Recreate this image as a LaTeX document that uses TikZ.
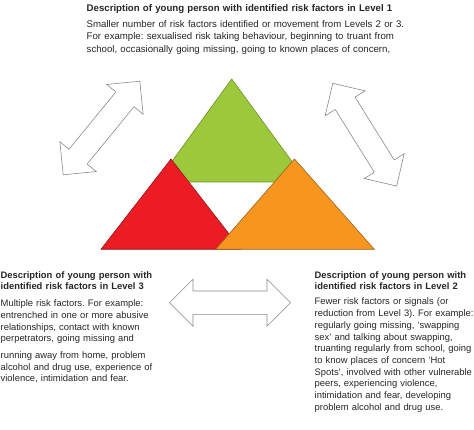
\documentclass[tikz,border=0pt]{standalone}
\usepackage{fontspec}
\setmainfont{Liberation Sans}
\frenchspacing
\definecolor{lvgreen}{HTML}{9BC93B}
\definecolor{lvgreenE}{HTML}{6F8F2C}
\definecolor{lvred}{HTML}{EC1C24}
\definecolor{lvredE}{HTML}{8E1A1C}
\definecolor{lvorange}{HTML}{F7961E}
\definecolor{lvorangeE}{HTML}{9A6220}
\definecolor{arrowgray}{HTML}{8A8A8A}
\tikzset{
  tri/.style={line width=0.6pt, line join=miter},
  arrowshape/.style={draw=arrowgray, fill=white, line width=0.6pt},
  dblarrow/.pic={\draw[arrowshape] (-60.5,0) -- (-37,-23.5) -- (-37,-11.7) -- (37,-11.7) -- (37,-23.5) -- (60.5,0) -- (37,23.5) -- (37,11.7) -- (-37,11.7) -- (-37,23.5) -- cycle;},
  desc/.style={inner sep=0pt, anchor=base west, align=left, text width=#1,
    font=\fontsize{9.4}{11.7}\selectfont\frenchspacing, text=black!85},
}
\begin{document}
\begin{tikzpicture}[x=1pt,y=-1pt]
\useasboundingbox (0,0) rectangle (474,430);
% triangles
\draw[tri, fill=lvgreen, draw=lvgreenE] (231.7,79) -- (157,182) -- (307,182) -- cycle;
\draw[tri, fill=lvred, draw=lvredE] (171,159) -- (101,249.3) -- (241,249.3) -- cycle;
\draw[tri, fill=lvorange, draw=lvorangeE] (294.5,159) -- (215.7,249.3) -- (374.3,249.3) -- cycle;
% arrows
\pic (arrL) [rotate=50.7] at (101.5,128) {dblarrow};
\pic (arrR) [rotate=-58.1] at (364.7,134.7) {dblarrow};
\pic (arrB) at (230,302.7) {dblarrow};
% texts
\node[desc=420pt, font=\fontsize{9.65}{12.5}\selectfont\frenchspacing] (lv1) at (86.5,11.7)
 {\textbf{Description of young person with identified risk factors in Level 1}\\[3.1pt]
  Smaller number of risk factors identified or movement from Levels 2 or 3.\\
  For example: sexualised risk taking behaviour, beginning to truant from\\
  school, occasionally going missing, going to known places of concern,};
\node[desc=200pt] (lv3) at (0.5,278.3)
 {\textbf{Description of young person with}\\
  \textbf{identified risk factors in Level 3}\\[5pt]
  Multiple risk factors. For example:\\
  entrenched in one or more abusive\\
  relationships, contact with known\\
  perpetrators, going missing and\\[5pt]
  running away from home, problem\\
  alcohol and drug use, experience of\\
  violence, intimidation and fear.};
\node[desc=200pt] (lv2) at (314.5,278.3)
 {\textbf{Description of young person with}\\
  \textbf{identified risk factors in Level 2}\\[3.3pt]
  Fewer risk factors or signals (or\\
  reduction from Level 3). For example:\\
  regularly going missing, ‘swapping\\
  sex’ and talking about swapping,\\
  truanting regularly from school, going\\
  to know places of concern ‘Hot\\
  Spots’, involved with other vulnerable\\
  peers, experiencing violence,\\
  intimidation and fear, developing\\
  problem alcohol and drug use.};
\end{tikzpicture}
\end{document}
